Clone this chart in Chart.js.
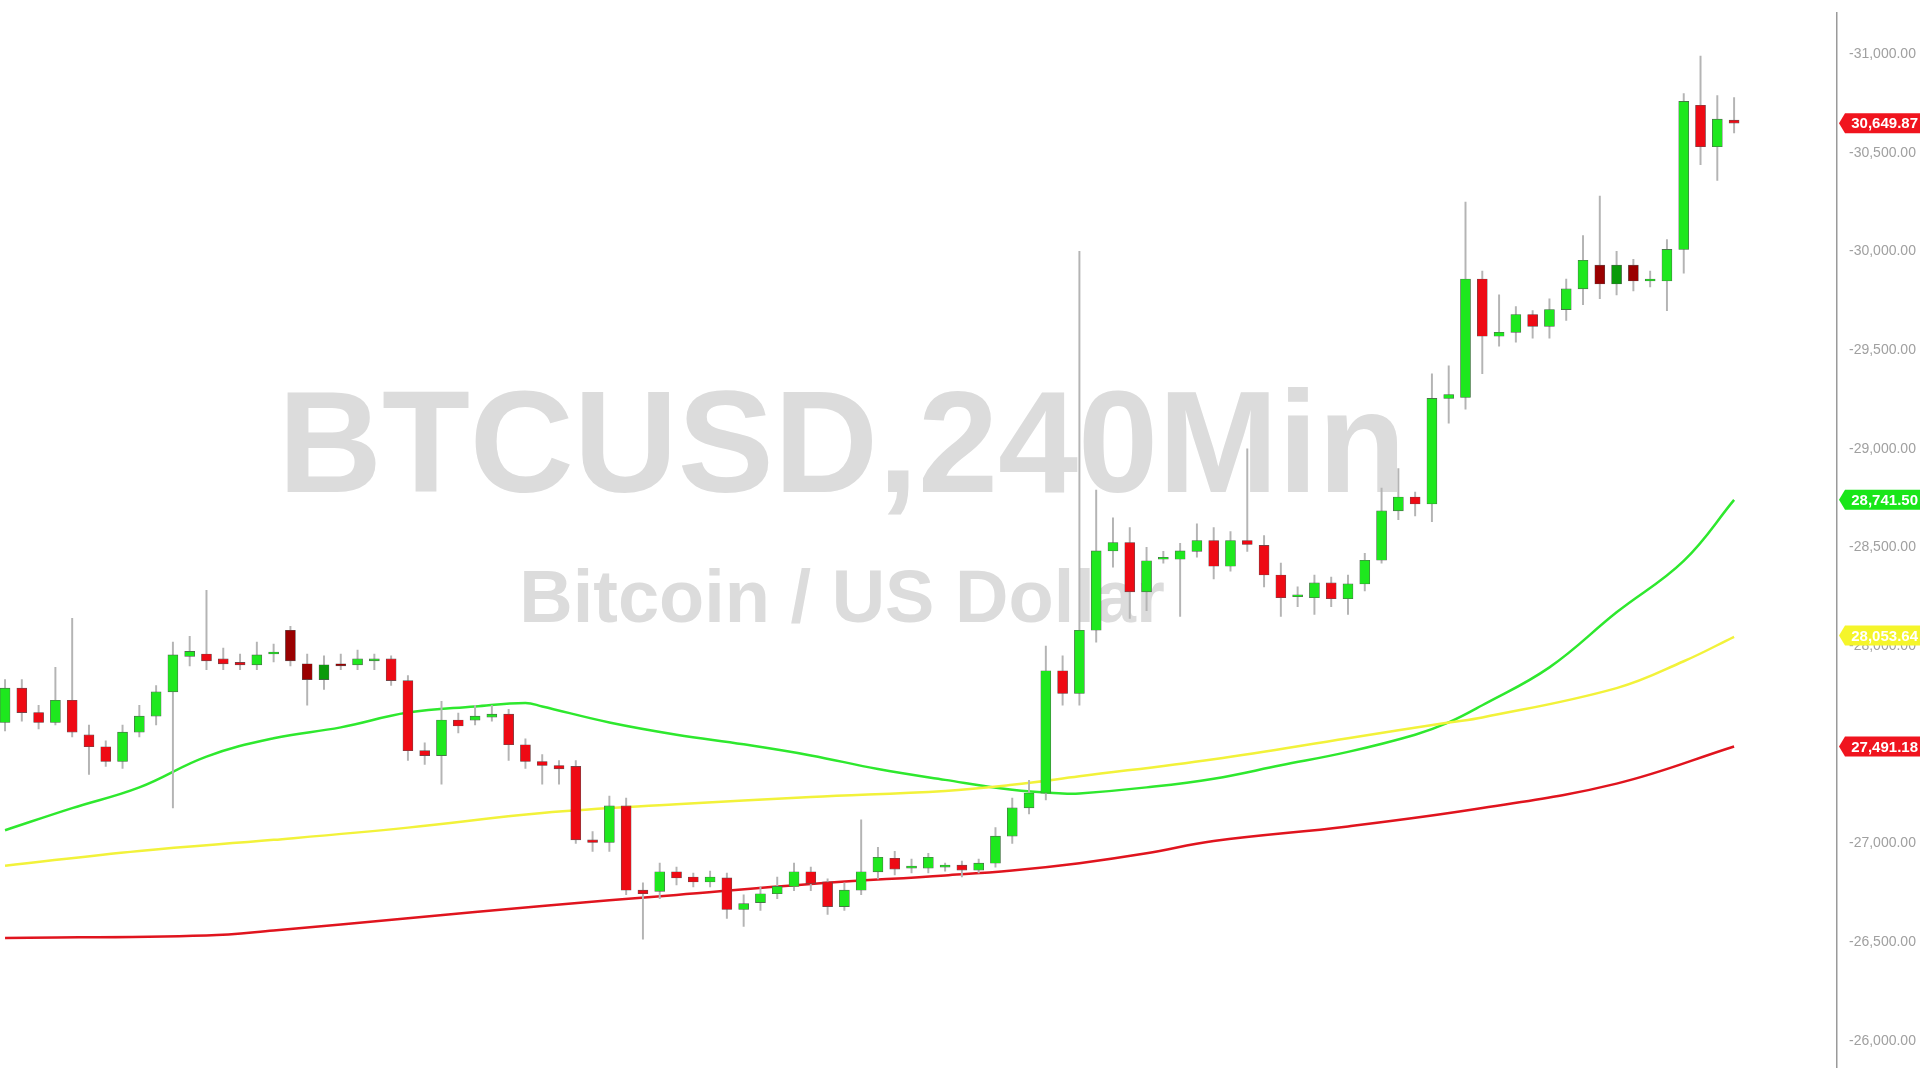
<!DOCTYPE html>
<html>
<head>
<meta charset="utf-8">
<script src="https://cdn.jsdelivr.net/npm/chart.js@4.4.0/dist/chart.umd.min.js"></script>
<style>
  html, body { margin: 0; padding: 0; background: #fff; }
  #wrap { width: 1920px; height: 1080px; }
</style>
</head>
<body>
<div id="wrap"><canvas id="c" width="1920" height="1080"></canvas></div>
<script>
// --- candles: open / close / high / low, one per 4h bar ---
const opens = [27613,27787,27663,27613,27725,27550,27490,27415,27564,27645,27768,27948,27960,27935,27917,27905,27960,28080,27910,27830,27910,27905,27925,27935,27825,27470,27445,27625,27625,27640,27655,27500,27415,27395,27390,27018,27005,27190,26763,26757,26856,26830,26805,26825,26665,26700,26745,26782,26856,26805,26680,26763,26856,26925,26875,26875,26880,26890,26865,26900,27037,27180,27255,27875,27760,28080,28482,28525,28275,28440,28440,28480,28535,28405,28535,28510,28360,28250,28245,28320,28240,28315,28435,28685,28755,28720,29255,29260,29860,29570,29590,29680,29620,29705,29810,29930,29835,29930,29850,29850,30010,30740,30530,30665];
const closes = [27787,27663,27613,27725,27564,27490,27415,27564,27645,27768,27955,27973,27925,27910,27905,27955,27965,27925,27830,27905,27900,27935,27928,27825,27470,27445,27625,27595,27645,27655,27500,27415,27395,27378,27018,27005,27190,26763,26745,26856,26825,26805,26830,26665,26695,26745,26782,26856,26795,26680,26763,26856,26930,26870,26878,26930,26882,26865,26900,27037,27180,27255,27875,27760,28080,28482,28525,28275,28432,28445,28482,28535,28405,28535,28515,28360,28245,28255,28320,28240,28315,28435,28685,28755,28720,29255,29275,29860,29570,29590,29680,29620,29705,29810,29955,29835,29930,29850,29855,30010,30760,30530,30670,30650];
const highs = [27830,27830,27700,27892,28140,27600,27520,27600,27700,27800,28020,28050,28283,27990,27960,28020,28010,28100,27960,27950,27960,27980,27960,27950,27850,27510,27720,27660,27700,27700,27680,27530,27450,27420,27420,27060,27240,27230,26800,26900,26880,26850,26860,26850,26740,26780,26830,26900,26880,26820,26800,27120,26980,26960,26920,26950,26900,26910,26920,27080,27230,27320,28000,27950,30000,28790,28650,28600,28500,28480,28520,28620,28600,28580,29000,28560,28420,28300,28360,28350,28360,28470,28800,28900,28780,29380,29420,30250,29900,29780,29720,29700,29760,29860,30080,30280,30000,29960,29900,30060,30800,30990,30790,30780];
const lows = [27570,27620,27580,27600,27540,27350,27390,27380,27540,27600,27180,27900,27880,27880,27880,27880,27920,27900,27700,27780,27880,27880,27880,27800,27420,27400,27300,27560,27600,27620,27420,27380,27300,27300,27000,26960,26960,26740,26515,26720,26790,26780,26780,26620,26580,26660,26720,26760,26760,26640,26660,26740,26820,26840,26850,26850,26860,26830,26850,26880,27000,27150,27220,27700,27700,28020,28400,28140,28180,28420,28150,28450,28340,28380,28480,28300,28150,28200,28160,28200,28160,28280,28420,28640,28660,28630,29130,29200,29380,29520,29540,29560,29560,29650,29730,29760,29780,29800,29820,29700,29890,30440,30360,30600];
// darker shade candles (as drawn in the source)
const darkBars = [17, 18, 19, 20, 95, 96, 97];

// --- moving averages: [bar index, value] ---
const maGreen = [[0,27067],[4,27179],[8,27284],[12,27440],[16,27533],[20,27588],[24,27663],[28,27694],[31,27712],[32,27694],[36,27613],[40,27551],[44,27502],[48,27446],[52,27377],[56,27322],[60,27272],[63,27253],[64,27253],[68,27284],[72,27328],[76,27396],[80,27464],[84,27551],[86,27613],[88,27700],[92,27892],[96,28171],[100,28432],[103,28741]];
const maYellow = [[0,26887],[8,26962],[16,27018],[24,27080],[32,27154],[40,27198],[48,27235],[56,27266],[60,27297],[64,27340],[72,27427],[80,27533],[86,27613],[88,27638],[96,27787],[100,27923],[103,28047]];
const maRed = [[0,26521],[12,26534],[16,26559],[24,26621],[32,26683],[40,26739],[48,26794],[56,26838],[60,26863],[64,26900],[68,26950],[72,27012],[80,27086],[88,27179],[96,27303],[103,27491]];

// --- price tags on the right axis ---
const tagValues = [30649.87, 28741.50, 28053.64, 27491.18];
const tagColors = ["#f0141e", "#19e619", "#f5f52a", "#f0141e"];

const fmt = v => v.toLocaleString("en-US", { minimumFractionDigits: 2, maximumFractionDigits: 2 });

const bodyData = opens.map((o, i) => ({ x: i, y: [o, closes[i]] }));
const wickData = highs.map((h, i) => ({ x: i, y: [lows[i], h] }));
const bodyColors = opens.map((o, i) => {
  const up = closes[i] >= o;
  if (darkBars.includes(i)) return up ? "#0a9a0a" : "#9a0000";
  return up ? "#1ee81e" : "#ee0a14";
});
const toPts = arr => arr.map(p => ({ x: p[0], y: p[1] }));

const watermark = {
  id: "watermark",
  beforeDatasetsDraw(chart) {
    const ctx = chart.ctx;
    ctx.save();
    ctx.fillStyle = "#dcdcdc";
    ctx.textAlign = "center";
    ctx.textBaseline = "middle";
    ctx.font = "bold 144px 'Liberation Sans', Arial, sans-serif";
    ctx.fillText("BTCUSD,240Min", 842, 452);
    ctx.font = "bold 74px 'Liberation Sans', Arial, sans-serif";
    ctx.fillText("Bitcoin / US Dollar", 842, 602);
    ctx.restore();
  }
};

const priceTags = {
  id: "priceTags",
  afterDraw(chart) {
    const ctx = chart.ctx;
    const ys = chart.scales.y;
    const x0 = ys.left;
    ctx.save();
    ctx.font = "bold 15px 'Liberation Sans', Arial, sans-serif";
    ctx.textBaseline = "middle";
    ctx.textAlign = "right";
    tagValues.forEach((v, i) => {
      const y = ys.getPixelForValue(v);
      ctx.fillStyle = tagColors[i];
      ctx.beginPath();
      ctx.moveTo(x0 + 2, y);
      ctx.lineTo(x0 + 8, y - 10);
      ctx.lineTo(x0 + 83, y - 10);
      ctx.lineTo(x0 + 83, y + 10);
      ctx.lineTo(x0 + 8, y + 10);
      ctx.closePath();
      ctx.fill();
      ctx.fillStyle = "#ffffff";
      ctx.fillText(fmt(v), x0 + 81, y + 1);
    });
    ctx.restore();
  }
};

new Chart(document.getElementById("c"), {
  data: {
    datasets: [
      { type: "line", data: toPts(maRed), borderColor: "#e0141e", borderWidth: 2.5, pointRadius: 0, tension: 0.4, order: 3 },
      { type: "line", data: toPts(maYellow), borderColor: "#f2f23a", borderWidth: 2.5, pointRadius: 0, tension: 0.4, order: 3 },
      { type: "line", data: toPts(maGreen), borderColor: "#2ee82e", borderWidth: 2.5, pointRadius: 0, tension: 0.4, order: 3 },
      { type: "bar", data: wickData, backgroundColor: "#b4b4b4", barThickness: 1.3, grouped: false, order: 2 },
      { type: "bar", data: bodyData, backgroundColor: bodyColors, borderColor: "#555", borderWidth: 0.6, borderSkipped: false, barThickness: 10, grouped: false, minBarLength: 2, order: 1 }
    ]
  },
  options: {
    responsive: false,
    animation: false,
    layout: { padding: 0 },
    plugins: { legend: { display: false }, tooltip: { enabled: false } },
    scales: {
      x: { type: "linear", min: -0.3, max: 109.13, display: false, offset: false },
      y: {
        position: "right",
        min: 25864, max: 31211,
        grid: { display: false, drawTicks: true },
        border: { display: true, color: "#9a9a9a", width: 1.5 },
        afterBuildTicks(scale) {
          scale.ticks = [];
          for (let v = 26000; v <= 31000; v += 500) scale.ticks.push({ value: v });
        },
        afterFit(scale) { scale.width = 83; },
        ticks: {
          color: "#a0a0a0",
          font: { size: 14, family: "'Liberation Sans', Arial, sans-serif" },
          padding: 4,
          callback: v => "-" + fmt(v)
        }
      }
    }
  },
  plugins: [watermark, priceTags]
});
</script>
</body>
</html>
